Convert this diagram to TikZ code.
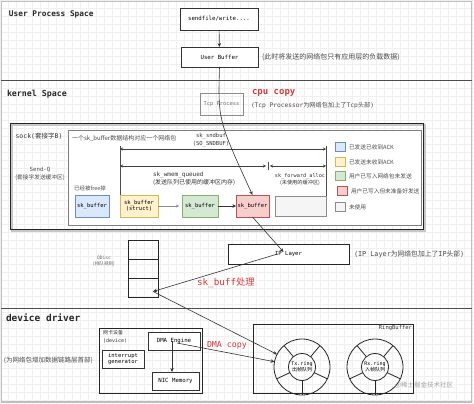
\documentclass[tikz,border=0pt]{standalone}
\usepackage{fontspec}
\setmainfont{DejaVu Sans}
\setmonofont{DejaVu Sans Mono}
\newfontfamily\cjk{Noto Sans CJK SC}
\usetikzlibrary{arrows.meta,positioning}
\newcommand\fs[2]{\fontsize{#1}{#2}\selectfont}
\definecolor{bluef}{HTML}{DAE8FC}\definecolor{blued}{HTML}{6C8EBF}
\definecolor{yelf}{HTML}{FFF2CC}\definecolor{yeld}{HTML}{D6B656}
\definecolor{grnf}{HTML}{D5E8D4}\definecolor{grnd}{HTML}{82B366}
\definecolor{pnkf}{HTML}{F8CECC}\definecolor{pnkd}{HTML}{B85450}
\definecolor{grayf}{HTML}{F5F5F5}\definecolor{grayd}{HTML}{8C8C8C}
\definecolor{hot}{HTML}{D13B3B}

\begin{document}
\begin{tikzpicture}[x=1pt,y=-1pt,outer sep=0,
    title/.style={anchor=west,inner sep=0,text=black!85},
    pbox/.style={draw=black!80,line width=0.7,fill=white,inner sep=0,font=\fs{5.7}{7}\ttfamily},
    note/.style={anchor=west,inner sep=0,text=black!70},
    skb/.style={draw,line width=0.6,minimum height=22,inner sep=0,align=center,font=\fs{5.5}{6.5}\ttfamily},
    sq/.style={draw,line width=0.5,minimum width=10,minimum height=9,inner sep=0},
    qcell/.style={draw=black!85,line width=0.7,minimum width=30,minimum height=19,inner sep=0},
    ring/.style={circle,draw=black!85,line width=0.8,inner sep=0},
    dim/.style={{Stealth[length=3pt,width=3pt]}-{Stealth[length=3pt,width=3pt]},line width=0.6,black!75},
    flow/.style={-{Stealth[length=4pt,width=3.5pt]},line width=0.6,black!80}]
    \useasboundingbox (0,0) rectangle (474,404);
    \fill[white] (0,0) rectangle (474,404);
    \foreach \gx in {0,8,...,472}
        \draw[black!6,line width=0.3] (\gx,0) -- (\gx,404);
    \foreach \gy in {0,8,...,400}
        \draw[black!6,line width=0.3] (0,\gy) -- (474,\gy);
    \draw[black!25,line width=1.5] (1.5,1.5) rectangle (471.5,402);
    \draw[black!70,line width=1] (1,81) -- (472,81);
    \draw[black!70,line width=1] (1,308) -- (472,308);

    \node[title,font=\fs{7.8}{9}\ttfamily\bfseries] (ups) at (9,14) {User Process Space};
    \node[pbox,minimum width=78,minimum height=22] (send) at (219,19) {sendfile/write....};
    \node[pbox,minimum width=77,minimum height=20] (ubuf) at (219.5,57) {User Buffer};
    \node[note,font=\fs{7}{8}\cjk] (unote) at (262,57) {(此时将发送的网络包只有应用层的负载数据)};
    \draw[flow] (send) -- (ubuf);

    \node[title,font=\fs{8.3}{9}\ttfamily\bfseries] (ks) at (7,94) {kernel Space};
    \node[draw=black!45,line width=0.6,minimum width=43,minimum height=22,inner sep=0,
        text=black!55,font=\fs{5.4}{6}\ttfamily] (tcp) at (221.5,104) {Tcp Process};
    \node[anchor=west,inner sep=0,text=hot,font=\fs{9}{10}\ttfamily\bfseries] (cpu) at (252,93) {cpu copy};
    \node[note,font=\fs{6.2}{7}\ttfamily] (tcpnote) at (251,106)
        {(Tcp Processor{\cjk 为网络包加上了}Tcp{\cjk 头部})};

    \draw[black!22,line width=1.2] (12,125) rectangle (425,231);
    \node[draw=black!85,line width=1,anchor=north west,minimum width=413,minimum height=106,inner sep=0] (sock) at (10,123) {};
    \node[draw=black!50,line width=0.5,fill=white,anchor=north west,minimum width=353,minimum height=95,inner sep=0] (inner) at (68,130) {};
    \node[inner sep=0,text=black!80,font=\fs{6.5}{7}] (socklbl) at (39,136) {{\ttfamily sock(}{\cjk 套接字}{\ttfamily B)}};
    \node[inner sep=0,align=center,text=black!70,font=\fs{5.7}{7.5}\ttfamily] (sendq) at (40,174) {Send-Q\\{\cjk (套接字发送缓冲区)}};

    \node[note,font=\fs{6}{7}\cjk] (onepkt) at (72,138) {一个sk\_buffer数据结构对应一个网络包};
    \node[inner sep=0,align=center,text=black!80,font=\fs{5.5}{7.5}\ttfamily] (sndlbl) at (211,140) {sk\_sndbuf\\(SO\_SNDBUF)};
    \node[note,align=left,text=black!80,font=\fs{6}{7.5}\ttfamily] (wmlbl) at (153,179) {sk\_wmem\_queued\\{\cjk (发送队列已使用的缓冲区内存)}};
    \node[inner sep=0,align=center,text=black!80,font=\fs{5.2}{7}\ttfamily] (fwlbl) at (300,180) {sk\_forward\_alloc\\{\cjk (未使用的缓冲区)}};
    \node[note,font=\fs{5.5}{6}\cjk] (freed) at (74,188) {已经被free掉};

    \node[skb,minimum width=34,fill=bluef,draw=blued] (blu) at (92,206) {sk\_buffer};
    \node[skb,minimum width=38,fill=yelf,draw=yeld,right=11pt of blu] (yel) {sk\_buffer\\(struct)};
    \node[skb,minimum width=36,fill=grnf,draw=grnd,right=24pt of yel] (grn) {sk\_buffer};
    \node[skb,minimum width=33,fill=pnkf,draw=pnkd,right=18pt of grn] (pnk) {sk\_buffer};
    \node[skb,minimum width=51,minimum height=20,fill=grayf,draw=grayd,right=6pt of pnk] (free) {};
    \draw[-{Stealth[length=3pt,width=3pt]},black!45,line width=0.5] (yel) -- ([xshift=-3pt]grn.west);
    \draw[-{Stealth[length=3.5pt,width=3.5pt]},black!80,line width=0.9] (grn) -- (pnk);

    \coordinate (vL) at (120,146);
    \coordinate (vR) at (326,146);
    \coordinate (sndL) at (120,149);
    \coordinate (sndR) at (326,149);
    \coordinate (wmL) at (120,166);
    \coordinate (wmR) at (266,166);
    \coordinate (fwL) at (270,166);
    \coordinate (fwR) at (326,166);
    \draw[black!70,line width=0.5] (vL) -- (yel.north west);
    \draw[black!70,line width=0.5] (vR) -- (free.north east);
    \draw[black!70,line width=0.6] (268,162) -- (268,170);
    \draw[dim] (sndL) -- (sndR);
    \draw[dim] (wmL) -- (wmR);
    \draw[dim] (fwL) -- (fwR);

    \node[sq,fill=bluef,draw=blued] (lg1) at (340,147) {};
    \node[sq,fill=yelf,draw=yeld] (lg2) at (340,162) {};
    \node[sq,fill=grnf,draw=grnd] (lg3) at (340,176) {};
    \node[sq,fill=pnkf,draw=pnkd] (lg4) at (342,191) {};
    \node[sq,fill=grayf,draw=grayd] (lg5) at (340,207) {};
    \node[note,font=\fs{5.7}{6}\cjk,right=4pt of lg1] (lt1) {已发送已收到ACK};
    \node[note,font=\fs{5.7}{6}\cjk,right=4pt of lg2] (lt2) {已发送未收到ACK};
    \node[note,font=\fs{5.7}{6}\cjk,right=4pt of lg3] (lt3) {用户已写入网络包未发送};
    \node[note,font=\fs{5.7}{6}\cjk,right=4pt of lg4] (lt4) {用户已写入但未准备好发送};
    \node[note,font=\fs{5.7}{6}\cjk,right=4pt of lg5] (lt5) {未使用};

    \coordinate (bend) at (218,120);
    \draw[flow] (ubuf.south) .. controls (bend) .. (pnk.north);

    \node[qcell] (q1) at (143,249.5) {};
    \node[qcell,below=0pt of q1] (q2) {};
    \node[qcell,below=0pt of q2] (q3) {};
    \node[inner sep=0,align=center,text=black!60,font=\fs{4.6}{6}\ttfamily] (qlbl) at (104,261) {QDisc\\{\cjk (排队规则)}};
    \node[draw=black!85,line width=0.7,fill=white,minimum width=121,minimum height=20,inner sep=0,
        font=\fs{5.6}{6}\ttfamily] (ip) at (288.5,254) {IP Layer};
    \node[note,font=\fs{6.8}{7}\ttfamily] (ipnote) at (354,254) {(IP Layer{\cjk 为网络包加上了}IP{\cjk 头部})};
    \node[anchor=west,inner sep=0,text=hot,font=\fs{9.3}{10}\ttfamily] (skproc) at (197,283) {sk\_buff{\cjk 处理}};
    \draw[flow] (pnk.south) -- ([xshift=-5pt,yshift=2pt]ip.center);
    \draw[flow] ([xshift=-11pt]ip.center) -- ([xshift=10pt,yshift=-4pt]q3.center);

    \node[title,font=\fs{9.5}{10}\ttfamily\bfseries] (dd) at (6,318) {device driver};
    \node[draw=black!85,line width=0.8,anchor=north west,minimum width=103,minimum height=65,inner sep=0] (dev) at (99,328) {};
    \node[anchor=north west,inner sep=0,align=left,text=black!80,font=\fs{5}{8}\ttfamily] (devlbl) at (103,330) {{\cjk 网卡设备}\\(device)};
    \node[pbox,minimum width=52,minimum height=18] (dma) at (174,341) {DMA Engine};
    \node[pbox,minimum width=42,minimum height=18,align=center,font=\fs{5.5}{6.5}\ttfamily] (intr) at (123,359) {interrupt\\generator};
    \node[pbox,minimum width=47,minimum height=18] (nic) at (175.5,381) {NIC Memory};
    \draw[flow] ([xshift=-2pt]dma.center) -- ([xshift=-2pt]dma.center |- nic.north);
    \node[note,font=\fs{6.5}{7}\cjk] (llnote) at (4,360) {(为网络包增加数据链路层首部)};
    \node[anchor=west,inner sep=0,text=hot,font=\fs{8.3}{9}\ttfamily] (dmacp) at (207,345) {DMA copy};

    \node[draw=black!85,line width=0.8,anchor=north west,minimum width=160,minimum height=69,inner sep=0] (rb) at (253,324) {};
    \node[anchor=north east,inner sep=1pt,text=black!80,font=\fs{5.5}{6}\ttfamily] (rblbl) at (rb.north east) {RingBuffer};
    \node[ring,minimum size=56] (tx) at (302,367) {};
    \node[ring,minimum size=27,align=center,font=\fs{5}{6}\ttfamily] (txin) at (tx.center) {Tx.ring\\{\cjk 出帧队列}};
    \node[ring,minimum size=56] (rx) at (375,367) {};
    \node[ring,minimum size=27,align=center,font=\fs{5}{6}\ttfamily] (rxin) at (rx.center) {Rx.ring\\{\cjk 入帧队列}};
    \foreach \a in {130,50,-25,-90,-155}
    {
        \draw[black!85,line width=0.8] (txin.\a) -- (tx.\a);
        \draw[black!85,line width=0.8] (rxin.\a) -- (rx.\a);
    }
    \draw[flow] ([xshift=10pt,yshift=-4pt]q3.center) -- (tx);
    \draw[flow] ([xshift=3pt,yshift=-2pt]dma.center) -- (tx);
    \node[anchor=west,inner sep=0,text=black!35,font=\fs{6.5}{7}\cjk] (wm) at (395,385) {@稀土掘金技术社区};
\end{tikzpicture}
\end{document}
